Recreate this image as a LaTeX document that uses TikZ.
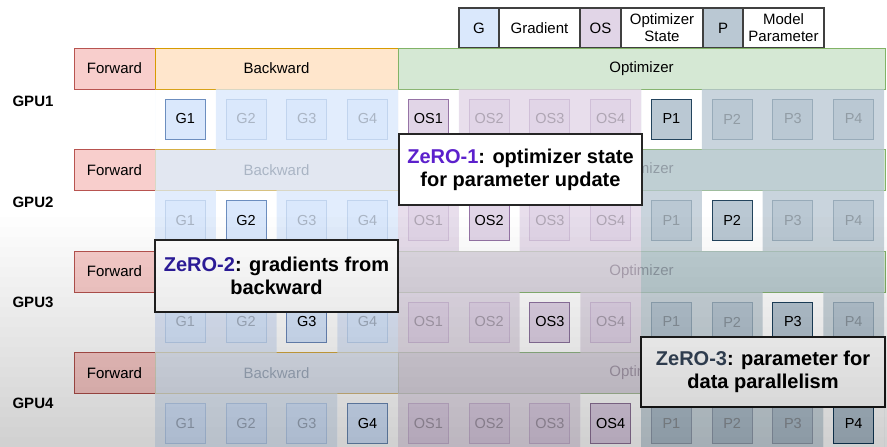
\documentclass[tikz,border=0pt]{standalone}
\usepackage{fontspec}
\setmainfont{Liberation Sans}
\definecolor{fwdfill}{HTML}{F8CECC}
\definecolor{fwdline}{HTML}{B85450}
\definecolor{bwdfill}{HTML}{FFE6CC}
\definecolor{bwdline}{HTML}{D79B00}
\definecolor{optfill}{HTML}{D5E8D4}
\definecolor{optline}{HTML}{82B366}
\definecolor{gfill}{HTML}{DAE8FC}
\definecolor{gline}{HTML}{6C8EBF}
\definecolor{osfill}{HTML}{E1D5E7}
\definecolor{osline}{HTML}{9673A6}
\definecolor{pfill}{HTML}{BAC8D3}
\definecolor{pline}{HTML}{23445D}
\definecolor{zone}{RGB}{92,32,204}
\definecolor{ztwo}{RGB}{48,32,160}
\definecolor{zthree}{RGB}{60,74,92}
\tikzset{
    legkey/.style = {rectangle, draw=black!75, line width=1.1pt, minimum height=40pt, inner sep=0pt, align=center, font=\fontsize{15}{17}\selectfont},
    legtxt/.style = {legkey, fill=white},
    barf/.style = {rectangle, draw=fwdline, fill=fwdfill, minimum height=41pt, inner sep=0pt, font=\fontsize{15}{18}\selectfont},
    barb/.style = {barf, draw=bwdline, fill=bwdfill},
    baro/.style = {barf, draw=optline, fill=optfill},
    gsq/.style = {rectangle, draw=gline, fill=gfill, line width=0.8pt, minimum size=40pt, inner sep=0pt, font=\fontsize{14.5}{17}\selectfont},
    ossq/.style = {gsq, draw=osline, fill=osfill},
    psq/.style = {gsq, draw=pline, fill=pfill},
    gpulabel/.style = {font=\fontsize{15}{18}\selectfont\bfseries},
    zerobox/.style = {rectangle, draw=black!85, line width=1.1pt, fill=white, inner sep=0pt, align=center, font=\fontsize{20}{23}\selectfont\bfseries},
    veil/.style = {opacity=0.78, even odd rule}, % other gpus' shards
}

\begin{document}
\begin{tikzpicture}[x=1pt,y=-1pt]
\useasboundingbox (0,0) rectangle (887,447);
% legend
\node[legkey,fill=gfill,minimum width=40pt] at (479,28) (kg) {G};
\node[legtxt,minimum width=81pt] at (539.5,28) (kgt) {Gradient};
\node[legkey,fill=osfill,minimum width=41pt] at (600.5,28) (kos) {OS};
\node[legtxt,minimum width=82pt] at (662,28) (kost) {Optimizer\\State};
\node[legkey,fill=pfill,minimum width=40pt] at (723,28) (kp) {P};
\node[legtxt,minimum width=81pt] at (783.5,28) (kpt) {Model\\Parameter};
%
\foreach \r/\t in {1/48,2/149.5,3/251,4/352.5}{
  \node[barf,minimum width=81pt] at (114.5,{\t+20.5}) (fw\r) {Forward};
  \node[barb,minimum width=243pt] at (276.5,{\t+20.5}) (bw\r) {Backward};
  \node[baro,minimum width=487pt] at (641.5,{\t+20.5}) (op\r) {Optimizer};
  \foreach \i in {1,...,4}{
    \node[gsq] at ({155+60.75*(\i-0.5)},{\t+71}) (g\r\i) {G\i};
    \node[ossq] at ({398+60.75*(\i-0.5)},{\t+71}) (os\r\i) {OS\i};
    \node[psq] at ({641+60.75*(\i-0.5)},{\t+71}) (p\r\i) {P\i};
  }
}
%
\foreach \c/\col in {0/gfill,1/osfill,2/pfill}{
  \fill[\col,veil] ({155+243*\c},89) rectangle ({398+243*\c},447)
    ({155+60.75*(4*\c)},89) rectangle ++(60.75,60.5)
    ({155+60.75*(4*\c+1)},190.5) rectangle ++(60.75,60.5)
    ({155+60.75*(4*\c+2)},292) rectangle ++(60.75,60.5)
    ({155+60.75*(4*\c+3)},393.5) rectangle ({155+60.75*(4*\c+4)},447);
}
%
\node[gpulabel] at (33,101) (gpu1) {GPU1};
\node[gpulabel] at (33,202) (gpu2) {GPU2};
\node[gpulabel] at (33,302) (gpu3) {GPU3};
\node[gpulabel] at (33,403) (gpu4) {GPU4};
%
\node[zerobox,minimum width=243pt,minimum height=71pt] at (520.5,169.5) (z1) {\textcolor{zone}{ZeRO-1}: optimizer state\\for parameter update};
\node[zerobox,minimum width=243pt,minimum height=72pt] at (276.5,276) (z2) {\textcolor{ztwo}{ZeRO-2}: gradients from\\backward};
\node[zerobox,minimum width=244pt,minimum height=70pt] at (763,372) (z3) {\textcolor{zthree}{ZeRO-3}: parameter for\\data parallelism};
% darker towards the bottom
\foreach \i in {0,...,22}{
  \fill[black,opacity=0.0076] (0,{217+10*\i}) rectangle (887,447);
}
\end{tikzpicture}
\end{document}
